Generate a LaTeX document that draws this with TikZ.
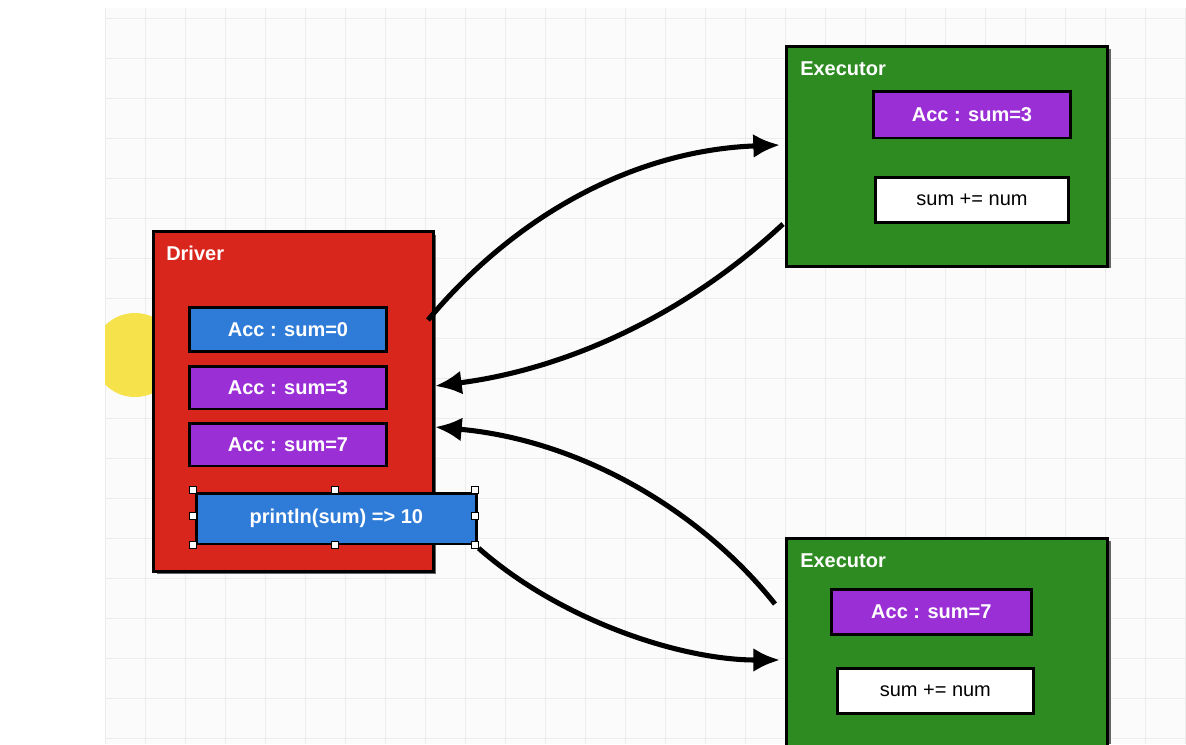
\documentclass[tikz,border=0pt]{standalone}
\usepackage{fontspec}
\setmainfont{Liberation Sans}
\usetikzlibrary{arrows.meta}
\definecolor{dred}{HTML}{D9261C}
\definecolor{egreen}{HTML}{2E8B22}
\definecolor{accb}{HTML}{2F7BD8}
\definecolor{accp}{HTML}{9B2FD6}
\definecolor{cyel}{HTML}{F6E24A}
\begin{document}
\begin{tikzpicture}[x=0.75pt,y=-0.75pt,
 box/.style={draw=black,line width=2.2pt,inner sep=0pt,anchor=north west},
 tag/.style={draw=black,line width=2pt,inner sep=0pt,anchor=north west,text=white,font=\bfseries\fontsize{15}{15}\selectfont},
 wtag/.style={tag,fill=white,text=black,font=\fontsize{15}{15}\selectfont},
 title/.style={text=white,font=\bfseries\fontsize{15}{15}\selectfont,anchor=north west,inner sep=0pt},
 arr/.style={-{Latex[length=20pt,width=18pt]},line width=3.8pt},
 hdl/.style={draw=black,fill=white,line width=0.5pt,minimum size=5pt,inner sep=0pt}]
\useasboundingbox (0,0) rectangle (1186,744);
\fill[white] (0,0) rectangle (1186,744);
\fill[gray!3] (105,8) rectangle (1186,744);
\begin{scope}
\clip (105,8) rectangle (1186,744);
\foreach \x in {105,145,...,1185} \draw[gray!15,line width=0.6pt] (\x,8) -- (\x,744);
\foreach \y in {18,58,...,744} \draw[gray!15,line width=0.6pt] (105,\y) -- (1186,\y);
\fill[cyel] (135,355) circle (42);
\end{scope}
% Driver
\fill[black!60] (157,235) rectangle (436,574);
\node[box,fill=dred,minimum width=210pt,minimum height=255pt] (drv) at (152,230) {};
\node[title] (drvt) at (166,246) {Driver};
\node[tag,fill=accb,minimum width=148pt,minimum height=33pt] (a0) at (188,306) {Acc : sum=0};
\node[tag,fill=accp,minimum width=148pt,minimum height=32pt] (a3) at (188,365) {Acc : sum=3};
\node[tag,fill=accp,minimum width=148pt,minimum height=32pt] (a7) at (188,422) {Acc : sum=7};
\node[tag,fill=accb,minimum width=210pt,minimum height=38pt] (pr) at (195,492) {println(sum) =\textgreater{} 10};
\foreach \p [count=\i] in {(193,490),(335,490),(475,490),(193,516),(475,516),(193,545),(335,545),(475,545)}
  \node[hdl] (h\i) at \p {};
% Executor top
\fill[black!60] (789,49) rectangle (1111,268);
\node[box,fill=egreen,minimum width=241pt,minimum height=165pt] (e1) at (785,45) {};
\node[title] (e1t) at (800,61) {Executor};
\node[tag,fill=accp,minimum width=148pt,minimum height=35pt] (e1a) at (872,90) {Acc : sum=3};
\node[wtag,minimum width=145pt,minimum height=34pt] (e1s) at (874,176) {sum += num};
% Executor bottom
\fill[black!60] (789,541) rectangle (1111,744);
\node[box,fill=egreen,minimum width=241pt,minimum height=160pt] (e2) at (785,537) {};
\node[title] (e2t) at (800,553) {Executor};
\node[tag,fill=accp,minimum width=150pt,minimum height=34pt] (e2a) at (830,588) {Acc : sum=7};
\node[wtag,minimum width=147pt,minimum height=34pt] (e2s) at (836,667) {sum += num};
% arrows
\coordinate (d1) at (428,320);
\coordinate (d2) at (435,386);
\coordinate (d3) at (435,427);
\coordinate (t1) at (780,145);
\coordinate (t2) at (783,224);
\coordinate (b1) at (775,604);
\coordinate (b2) at (780,660);
\draw[arr] (d1) .. controls (520,210) and (640,150) .. (t1);
\draw[arr] (t2) .. controls (680,320) and (560,370) .. (d2);
\draw[arr] (b1) .. controls (700,510) and (580,440) .. (d3);
\draw[arr] (h8) .. controls (560,620) and (680,660) .. (b2);
\end{tikzpicture}
\end{document}
